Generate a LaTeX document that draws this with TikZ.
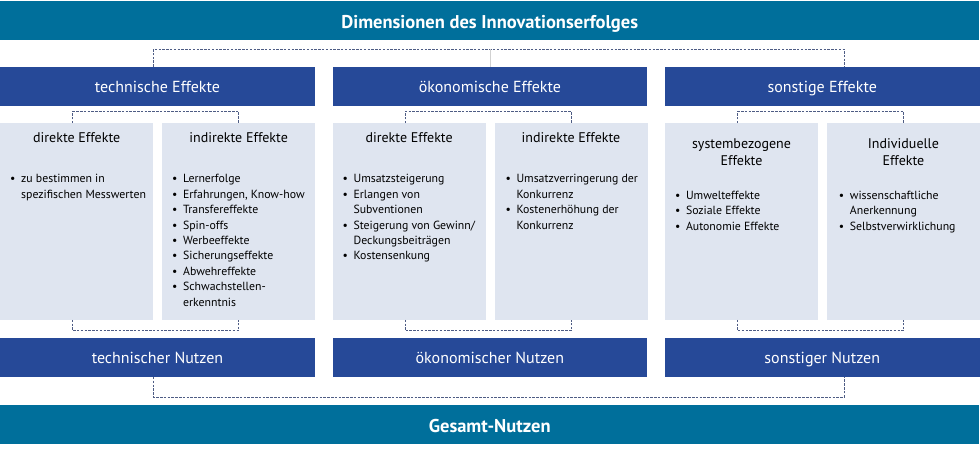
\documentclass[tikz,border=0pt]{standalone}
\usepackage{fontspec}
\setmainfont{PT Sans}
\usetikzlibrary{positioning}
\definecolor{bannerteal}{RGB}{0,111,155}
\definecolor{effblue}{RGB}{38,73,152}
\definecolor{boxgrey}{RGB}{223,229,240}
\definecolor{dashgrey}{RGB}{78,92,132}
\tikzset{node distance=17pt, auto,
  banner/.style={fill=bannerteal, text=white, font=\fontsize{18.5}{22}\selectfont\bfseries,
    minimum width=979pt, minimum height=39pt, inner sep=0pt, anchor=north west,
    text height=15.6pt, text depth=0pt},
  effbox/.style={fill=effblue, text=white, font=\fontsize{16}{19}\selectfont,
    minimum width=314.5pt, minimum height=39pt, inner sep=0pt,
    text height=13pt, text depth=0pt},
  itembox/.style={fill=boxgrey, minimum width=153pt, minimum height=196.3pt, inner sep=0pt},
  boxhead/.style={anchor=north, align=center, inner sep=0pt, font=\fontsize{14}{17}\selectfont},
  itemlist/.style={anchor=north west, align=left, inner sep=0pt, font=\fontsize{11.8}{15.4}\selectfont},
  dashlink/.style={draw=dashgrey, line width=0.8pt, dash pattern=on 2.5pt off 1.3pt},
  faintlink/.style={draw=black!18, line width=0.5pt}}
\newcommand{\bul}{\strut\makebox[11pt][l]{\textbullet}}
\newcommand{\cont}{\strut\hspace*{11pt}}

\begin{document}
\begin{tikzpicture}
              \useasboundingbox (0,0) rectangle (980pt,-450pt);
              \node (dim) [banner] at (0pt,-1pt) {Dimensionen des Innovationserfolges};

              \node (te) [effbox, anchor=north west] at (0pt,-66.7pt) {technische Effekte};
              \node (oe) [effbox, right=17.5pt of te] {ökonomische Effekte};
              \node (se) [effbox, right=17.5pt of oe] {sonstige Effekte};

              \node (tde) [itembox, below=17pt of te.south west, anchor=north west] {};
              \node (tie) [itembox, right=8.5pt of tde] {};
              \node (ode) [itembox, below=17pt of oe.south west, anchor=north west] {};
              \node (oie) [itembox, right=8.5pt of ode] {};
              \node (sde) [itembox, below=17pt of se.south west, anchor=north west] {};
              \node (sie) [itembox, right=8.5pt of sde] {};

              \node (tn) [effbox, below=17.7pt of tde.south west, anchor=north west] {technischer Nutzen};
              \node (on) [effbox, right=17.5pt of tn] {ökonomischer Nutzen};
              \node (sn) [effbox, right=17.5pt of on] {sonstiger Nutzen};

              \node (ges) [banner] at (0pt,-405pt) {Gesamt-Nutzen};

              \node (tdeh) [boxhead] at ([yshift=-7.1pt]tde.north) {\strut direkte Effekte};
              \node (tieh) [boxhead] at ([yshift=-7.1pt]tie.north) {\strut indirekte Effekte};
              \node (odeh) [boxhead] at ([yshift=-7.1pt]ode.north) {\strut direkte Effekte};
              \node (oieh) [boxhead] at ([yshift=-7.1pt]oie.north) {\strut indirekte Effekte};
              \node (sdeh) [boxhead] at ([yshift=-13.7pt]sde.north) {\strut systembezogene\\Effekte};
              \node (sieh) [boxhead] at ([yshift=-13.7pt]sie.north) {\strut Individuelle\\Effekte};

              \node (tdel) [itemlist] at ([xshift=10pt, yshift=-48.8pt]tde.north west)
                {\bul zu bestimmen in\\ \cont spezifischen Messwerten};
              \node (tiel) [itemlist] at ([xshift=10pt, yshift=-48.8pt]tie.north west)
                {\bul Lernerfolge\\ \bul Erfahrungen, Know-how\\ \bul Transfereffekte\\
                 \bul Spin-offs\\ \bul Werbeeffekte\\ \bul Sicherungseffekte\\
                 \bul Abwehreffekte\\ \bul Schwachstellen-\\ \cont erkenntnis};
              \node (odel) [itemlist] at ([xshift=10pt, yshift=-48.8pt]ode.north west)
                {\bul Umsatzsteigerung\\ \bul Erlangen von\\ \cont Subventionen\\
                 \bul Steigerung von Gewinn/\\ \cont Deckungsbeiträgen\\ \bul Kostensenkung};
              \node (oiel) [itemlist] at ([xshift=11pt, yshift=-48.8pt]oie.north west)
                {\bul Umsatzverringerung der\\ \cont Konkurrenz\\
                 \bul Kostenerhöhung der\\ \cont Konkurrenz};
              \node (sdel) [itemlist] at ([xshift=10pt, yshift=-65.5pt]sde.north west)
                {\bul Umwelteffekte\\ \bul Soziale Effekte\\ \bul Autonomie Effekte};
              \node (siel) [itemlist] at ([xshift=12pt, yshift=-65.5pt]sie.north west)
                {\bul wissenschaftliche\\ \cont Anerkennung\\ \bul Selbstverwirklichung};

              \draw [dashlink] ([xshift=-4pt]te.north) -- ++(0,17.7pt) -| ([xshift=22pt]se.north);
              \draw [faintlink] (oe.north) -- ++(0,17.7pt);
              \draw [dashlink] ([xshift=-4pt]tde.north) -- ++(0,11.7pt) -| (tie.north);
              \draw [dashlink] ([xshift=-4pt]ode.north) -- ++(0,11.7pt) -| (oie.north);
              \draw [dashlink] ([xshift=-4pt]sde.north) -- ++(0,11.7pt) -| (sie.north);
              \draw [dashlink] ([xshift=-4pt]tde.south) -- ++(0,-11pt) -| (tie.south);
              \draw [dashlink] ([xshift=-4pt]ode.south) -- ++(0,-11pt) -| (oie.south);
              \draw [dashlink] ([xshift=-4pt]sde.south) -- ++(0,-11pt) -| (sie.south);
              \draw [dashlink] ([xshift=-4pt]tn.south) -- ++(0,-20pt) -| ([xshift=22pt]sn.south);
            \end{tikzpicture}
\end{document}
